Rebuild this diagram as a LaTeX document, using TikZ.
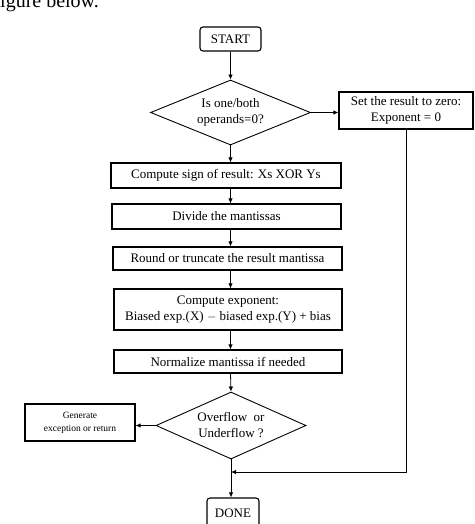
\documentclass[tikz,border=0pt]{standalone}
\usepackage{fontspec}
\setmainfont{Liberation Serif}
\usetikzlibrary{shapes.geometric,arrows.meta}

\begin{document}
\begin{tikzpicture}[
  x=1pt, y=-1pt,
  box/.style={draw, line width=1.1, inner sep=0, align=center,
    font=\fontsize{13}{16}\selectfont},
  term/.style={box, rounded corners=3},
  decision/.style={draw, diamond, aspect=2.4, inner sep=0, align=center,
    line width=0.9, font=\fontsize{13}{16}\selectfont},
  flow/.style={line width=0.8, -{Latex[length=5,width=4.5]}},
]
\useasboundingbox (0,0) rectangle (474,524);
% Textrest oben links, vom Rand abgeschnitten
\node[anchor=base west, inner sep=0, font=\fontsize{20}{24}\selectfont] (cap) at (0,7.5) {igure below.};

\node[term, minimum width=61, minimum height=24] (start) at (230.5,39) {START};
\node[decision, minimum width=160, minimum height=65] (zerotest) at (230.5,112.5) {Is one/both\\operands=0?};
\node[box, minimum width=134, minimum height=37] (setzero) at (406,110.5) {Set the result to zero:\\Exponent = 0};
\node[box, minimum width=230, minimum height=25] (sign) at (226,175.5) {Compute sign of result: Xs XOR Ys};
\node[box, minimum width=229, minimum height=25] (divide) at (226.5,216.5) {Divide the mantissas};
\node[box, minimum width=229, minimum height=23] (round) at (227.5,258.5) {Round or truncate the result mantissa};
\node[box, minimum width=228, minimum height=41] (expo) at (228,309.5) {Compute exponent:\\Biased exp.(X) $-$ biased exp.(Y) + bias};
\node[box, minimum width=228, minimum height=23] (norm) at (228,361.5) {Normalize mantissa if needed};
\node[decision, minimum width=150, minimum height=67] (flowtest) at (231,425.5) {Overflow\ \ or\\Underflow ?};
\node[box, minimum width=110, minimum height=37, font=\fontsize{9.5}{13}\selectfont] (except) at (80,422.5) {Generate\\exception or return};
\node[term, minimum width=52, minimum height=30] (done) at (233,513) {DONE};

% Sammelpunkt der beiden Zweige
\coordinate (corner) at (setzero.south |- 0,472);
\coordinate (merge) at (flowtest.south |- 0,472);

\draw[flow] (start) -- (zerotest);
\draw[flow] (zerotest.east) -- (zerotest.east -| setzero.west);
\draw[flow] (zerotest.south) -- (zerotest.south |- sign.north);
\draw[flow] (sign.south -| zerotest.south) -- (divide.north -| zerotest.south);
\draw[flow] (divide.south -| zerotest.south) -- (round.north -| zerotest.south);
\draw[flow] (round.south -| zerotest.south) -- (expo.north -| zerotest.south);
\draw[flow] (expo.south -| zerotest.south) -- (norm.north -| zerotest.south);
\draw[flow] (norm.south -| zerotest.south) -- (flowtest.north);
\draw[flow] (flowtest.west) -- (flowtest.west -| except.east);
\draw[flow] (flowtest.south) -- (flowtest.south |- done.north);
\draw[flow] (setzero.south) -- (corner) -- (merge);
\end{tikzpicture}
\end{document}
